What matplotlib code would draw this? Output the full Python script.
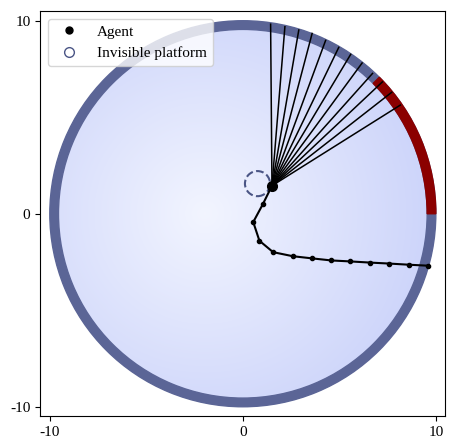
import matplotlib
matplotlib.use('Agg')
import matplotlib.pyplot as plt
import numpy as np
from matplotlib.patches import Circle, Wedge, Arc
from matplotlib.lines import Line2D

plt.rcParams['font.family'] = ['Liberation Serif', 'DejaVu Serif']

# trajectory of the agent
traj_x = [9.57, 8.59, 7.57, 6.59, 5.57, 4.59, 3.57, 2.59, 1.57, 0.86, 0.54, 1.03, 1.51]
traj_y = [-2.69, -2.64, -2.58, -2.53, -2.47, -2.42, -2.31, -2.20, -1.99, -1.40, -0.43, 0.48, 1.45]
# ray endpoints on the wall
ray_x = [1.44, 2.18, 2.90, 3.59, 4.29, 4.97, 5.59, 6.18, 6.72, 7.23, 7.71, 8.16]
ray_y = [9.82, 9.69, 9.52, 9.34, 8.98, 8.62, 8.26, 7.81, 7.27, 6.83, 6.29, 5.63]
platform = (0.76, 1.56)
platform_r = 0.65
cue_span = (0, 45)

fig = plt.figure(figsize=(4.56, 4.43), dpi=100)
ax = fig.add_axes([0.085, 0.06, 0.895, 0.915])

# radial gradient floor
g = np.linspace(-10, 10, 300)
X, Y = np.meshgrid(g, g)
D = np.sqrt((X + 2) ** 2 + Y ** 2) / 12
c0 = np.array([0.95, 0.96, 1.0])
c1 = np.array([0.80, 0.83, 0.98])
img = c0 + (c1 - c0) * np.clip(D, 0, 1)[..., None]
im = ax.imshow(img, extent=(-10, 10, -10, 10), origin='lower', zorder=0)
im.set_clip_path(Circle((0, 0), 10, transform=ax.transData))

ax.add_patch(Wedge((0, 0), 10, 0, 360, width=0.45, color='#5b6596', zorder=1))
ax.add_patch(Wedge((0, 0), 10, cue_span[0], cue_span[1], width=0.45, color='#8b0000', zorder=2))

for x, y in zip(ray_x, ray_y):
    ax.plot([traj_x[-1], x], [traj_y[-1], y], color='black', lw=1.1, zorder=3)
ax.plot(traj_x, traj_y, color='black', lw=1.5, marker='o', ms=3, zorder=4)
ax.plot(traj_x[-1], traj_y[-1], 'o', color='black', ms=7, zorder=5)
ax.add_patch(Circle(platform, platform_r, fill=False, ls='--', lw=1.5,
                    ec='#4a5585', zorder=3))

ax.set_xlim(-10.5, 10.5)
ax.set_ylim(-10.5, 10.5)
ax.set_xticks([-10, 0, 10])
ax.set_yticks([-10, 0, 10])
ax.set_xticklabels(['-10', '0', '10'])
ax.set_yticklabels(['-10', '0', '10'])
ax.tick_params(labelsize=11)

handles = [Line2D([], [], marker='o', color='black', ls='', ms=5, label='Agent'),
           Line2D([], [], marker='o', mfc='none', mec='#4a5585', ls='', ms=7,
                  label='Invisible platform')]
ax.legend(handles=handles, loc='upper left', fontsize=11)

fig.savefig('out.png', dpi=100)
